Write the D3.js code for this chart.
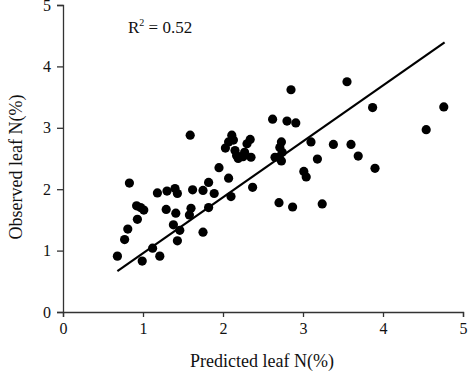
<!DOCTYPE html>
<html>
<head>
<meta charset="utf-8">
<script src="https://cdn.jsdelivr.net/npm/d3@7"></script>
<style>
  body { margin: 0; background: #fff; }
  svg text { font-family: "Liberation Serif", "Times New Roman", serif; fill: #111; }
</style>
</head>
<body>
<svg id="chart" width="474" height="385"></svg>
<script>
// predicted vs observed leaf N (%)
const predicted = [0.68, 0.77, 0.81, 0.83, 0.92, 0.93, 0.99, 1.01, 0.97, 1.12, 1.21, 1.18, 1.30, 1.40, 1.43,
  1.29, 1.41, 1.38, 1.46, 1.43, 1.59, 1.60, 1.58, 1.62, 1.75, 1.75, 1.82, 1.82, 1.89, 1.95,
  2.07, 2.10, 2.11, 2.07, 2.13, 2.03, 2.15, 2.17, 2.19, 2.27, 2.25, 2.35, 2.34, 2.30, 2.37,
  2.62, 2.80, 2.91, 2.85, 2.73, 2.71, 2.74, 2.65, 2.70, 2.73, 2.70, 2.87, 3.01, 3.04, 3.10,
  3.18, 3.24, 3.38, 3.55, 3.60, 3.69, 3.87, 3.90, 4.54, 4.76];
const observed = [0.91, 1.18, 1.35, 2.10, 1.73, 1.51, 0.83, 1.66, 1.70, 1.04, 0.91, 1.94, 1.97, 2.01, 1.93,
  1.67, 1.61, 1.42, 1.33, 1.16, 2.88, 1.69, 1.58, 1.99, 1.98, 1.30, 1.70, 2.11, 1.93, 2.35,
  2.18, 1.88, 2.88, 2.77, 2.80, 2.67, 2.63, 2.55, 2.50, 2.60, 2.53, 2.52, 2.81, 2.74, 2.03,
  3.14, 3.11, 3.08, 3.62, 2.77, 2.68, 2.60, 2.52, 2.52, 2.46, 1.78, 1.71, 2.29, 2.20, 2.77,
  2.49, 1.76, 2.73, 3.75, 2.73, 2.54, 3.33, 2.34, 2.97, 3.34];
const fitX = [0.68, 4.77];
const fitSlope = 0.911;
const fitIntercept = 0.045;
const tickValues = [0, 1, 2, 3, 4, 5];
const r2Label = "0.52";

const svg = d3.select("#chart");
const margin = { left: 63, right: 11, top: 5, bottom: 73 };
const width = 474, height = 385;

const x = d3.scaleLinear().domain([0, 5]).range([margin.left, width - margin.right]);
const y = d3.scaleLinear().domain([0, 5]).range([height - margin.bottom, margin.top]);

const points = predicted.map((p, i) => ({ p, o: observed[i] }));

// axes
const xAxis = svg.append("g")
  .attr("transform", `translate(0,${y(0)})`)
  .call(d3.axisBottom(x).tickValues(tickValues).tickFormat(d3.format("d")).tickSize(5).tickPadding(6));
const yAxis = svg.append("g")
  .attr("transform", `translate(${x(0)},0)`)
  .call(d3.axisLeft(y).tickValues(tickValues).tickFormat(d3.format("d")).tickSize(6).tickPadding(6));

[xAxis, yAxis].forEach((g) => {
  g.select(".domain").attr("stroke", "#333").attr("stroke-width", 1.3);
  g.selectAll(".tick line").attr("stroke", "#333").attr("stroke-width", 1.3);
  g.selectAll(".tick text")
    .style("font-family", '"Liberation Serif", serif')
    .style("font-size", "16px")
    .attr("fill", "#111");
});

// fitted line
svg.append("line")
  .attr("x1", x(fitX[0]))
  .attr("y1", y(fitIntercept + fitSlope * fitX[0]))
  .attr("x2", x(fitX[1]))
  .attr("y2", y(fitIntercept + fitSlope * fitX[1]))
  .attr("stroke", "#000")
  .attr("stroke-width", 2.2);

// points
svg.append("g")
  .selectAll("circle")
  .data(points)
  .join("circle")
  .attr("cx", (d) => x(d.p))
  .attr("cy", (d) => y(d.o))
  .attr("r", 4.6)
  .attr("fill", "#000");

// R^2 annotation
const r2 = svg.append("text")
  .attr("x", 128)
  .attr("y", 33)
  .style("font-size", "17px");
r2.append("tspan").text("R");
r2.append("tspan").attr("dy", -7).style("font-size", "10px").text("2");
r2.append("tspan").attr("dy", 7).text(" = " + r2Label);

// axis titles
svg.append("text")
  .attr("x", 262)
  .attr("y", 367)
  .attr("text-anchor", "middle")
  .style("font-size", "18px")
  .text("Predicted leaf N(%)");

svg.append("text")
  .attr("transform", "translate(22,167) rotate(-90)")
  .attr("text-anchor", "middle")
  .style("font-size", "18px")
  .text("Observed leaf N(%)");
</script>
</body>
</html>
